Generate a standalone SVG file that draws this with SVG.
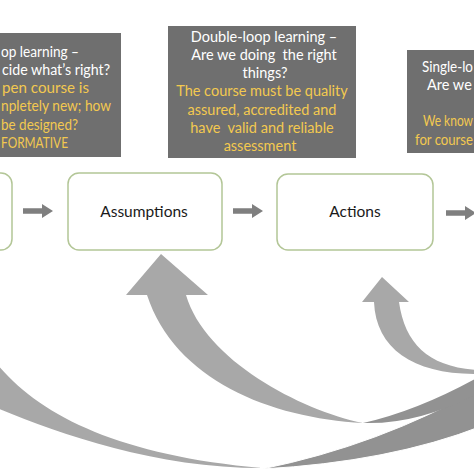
<svg xmlns="http://www.w3.org/2000/svg" width="474" height="474" viewBox="0 0 474 474">
<style>
.gbox{fill:#6f6f6f}
.fbox{fill:#ffffff;stroke:#b3c697;stroke-width:1.5}
.bt{font-family:Lato,"Open Sans",sans-serif;font-size:14.5px;white-space:pre}
.w{fill:#ffffff}
.y{fill:#f3c94f}
.lbl{font-family:Lato,"Open Sans",sans-serif;font-size:15.5px;fill:#1a1a1a;text-anchor:middle}
.sa{fill:#7f7f7f}
.ca{fill:#a8a8a8}
.cd{fill:#929292}
</style>
<defs>
<path id="arr" d="M0,-2.8 L19,-2.8 L19,-7 L30,0 L19,7 L19,2.8 L0,2.8 Z"/>
</defs>
<rect width="474" height="474" fill="#ffffff"/>

<g id="box-left-note">
<rect class="gbox" x="-6" y="33" width="127" height="124"/>
<text class="bt w" x="1" y="56.5" textLength="78" lengthAdjust="spacingAndGlyphs">op learning –</text>
<text class="bt w" x="2" y="74.8" textLength="108" lengthAdjust="spacingAndGlyphs">cide what’s right?</text>
<text class="bt y" x="2" y="93.1" textLength="87" lengthAdjust="spacingAndGlyphs">pen course is</text>
<text class="bt y" x="1" y="111.4" textLength="110" lengthAdjust="spacingAndGlyphs">npletely new; how</text>
<text class="bt y" x="1" y="129.7" textLength="77" lengthAdjust="spacingAndGlyphs">be designed?</text>
<text class="bt y" x="1" y="148" textLength="67" lengthAdjust="spacingAndGlyphs">FORMATIVE</text>
</g>

<g id="box-double-loop">
<rect class="gbox" x="168" y="26" width="188" height="132"/>
<g text-anchor="middle">
<text class="bt w" x="264" y="41.5">Double-loop learning –</text>
<text class="bt w" x="264" y="59.8">Are we doing  the right</text>
<text class="bt w" x="265" y="78.1">things?</text>
<text class="bt y" x="262" y="96.4">The course must be quality</text>
<text class="bt y" x="262" y="114.7">assured, accredited and</text>
<text class="bt y" x="262" y="133">have  valid and reliable</text>
<text class="bt y" x="260" y="151.3">assessment</text>
</g>
</g>

<g id="box-single-loop">
<rect class="gbox" x="407" y="50" width="75" height="103"/>
<text class="bt w" x="422" y="71.5" textLength="51" lengthAdjust="spacingAndGlyphs">Single-lo</text>
<text class="bt w" x="427" y="89.8">Are we</text>
<text class="bt y" x="423" y="126.4" textLength="50" lengthAdjust="spacingAndGlyphs">We know</text>
<text class="bt y" x="415" y="144.7" textLength="58" lengthAdjust="spacingAndGlyphs">for course</text>
</g>

<g id="node-left">
<rect class="fbox" x="-150" y="173" width="162" height="77" rx="11"/>
</g>
<g id="node-assumptions">
<rect class="fbox" x="68" y="173" width="154" height="77" rx="11"/>
<text class="lbl" x="144" y="217">Assumptions</text>
</g>
<g id="node-actions">
<rect class="fbox" x="277" y="174" width="156" height="76" rx="11"/>
<text class="lbl" x="355" y="217">Actions</text>
</g>

<g id="connectors">
<use href="#arr" class="sa" x="23" y="211"/>
<use href="#arr" class="sa" x="233" y="211"/>
<use href="#arr" class="sa" x="446" y="213"/>

<!-- lower large loop -->
<path class="ca" d="M-10,355 C30,410 110,455 262,468 C150,468 50,430 -10,405 Z"/>
<path class="cd" stroke="#ffffff" stroke-width="1" d="M262,469 Q380,445 482,387 L482,426 Q390,462 262,469 Z"/>

<!-- middle loop to Assumptions -->
<path class="cd" d="M363,423 Q420,410 482,375 L482,391 Q420,425 363,423 Z"/>
<path class="ca" d="M161,254 L208,295 L186,295 C205,360 300,410 363,423 C270,418 175,380 147,295 L126,295 Z"/>

<!-- small loop to Actions -->
<path class="ca" d="M382,277 L409,302 L399,302 C405,345 430,368 480,370 L480,374 C415,375 376,350 374,302 L362,302 Z"/>
</g>
</svg>
